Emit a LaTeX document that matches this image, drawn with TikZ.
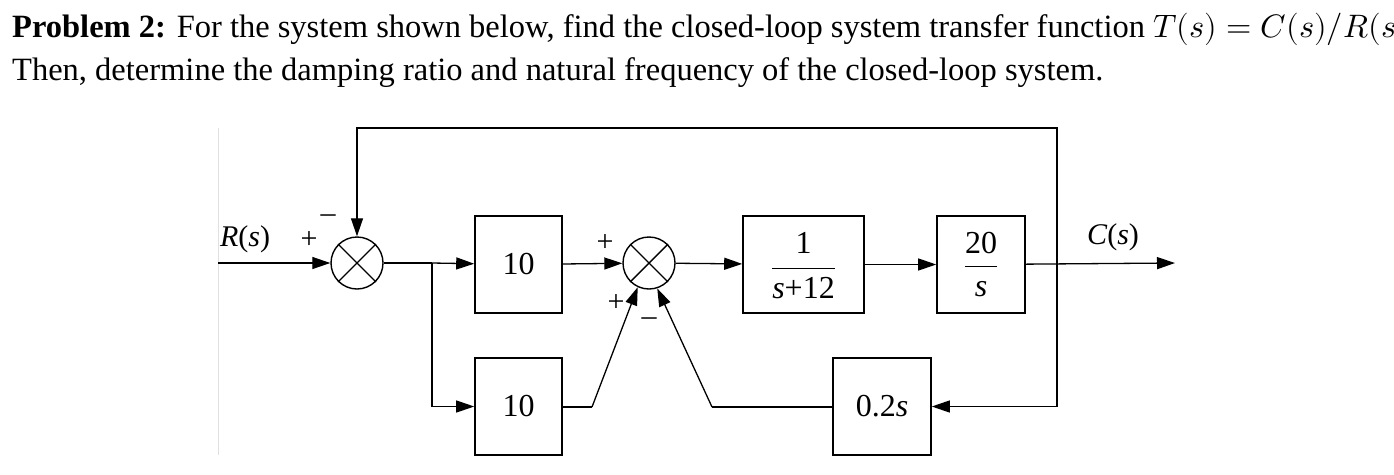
\documentclass[tikz,border=0pt]{standalone}
\usepackage{unicode-math}
\setmainfont{Liberation Serif}
\setmathfont{Latin Modern Math}
\usetikzlibrary{arrows.meta}
\begin{document}
\begin{tikzpicture}[x=1pt,y=-1pt,
  blk/.style={draw,line width=1.6pt,inner sep=0pt,font=\fontsize{32}{34}\selectfont},
  sj/.style={draw,circle,line width=1.4pt,minimum size=52pt,inner sep=0pt},
  sig/.style={line width=1.3pt},
  arr/.style={sig,-{Triangle[length=18pt,width=12pt]}},
  lbl/.style={font=\fontsize{30}{32}\selectfont}]
\useasboundingbox (0,0) rectangle (1394,474);
\node[anchor=base west,inner sep=0pt,font=\fontsize{32.5}{35}\selectfont] (t1) at (12,37) {\textbf{Problem 2:} For the system shown below, find the closed-loop system transfer function $T(s)=C(s)/R(s)$.};
\node[anchor=base west,inner sep=0pt,font=\fontsize{32.5}{35}\selectfont] (t2) at (12,80) {Then, determine the damping ratio and natural frequency of the closed-loop system.};
\draw[black!12,line width=1pt] (218,128) -- (218,455);
\node[sj] (s1) at (357,263) {};
\node[sj] (s2) at (649,263) {};
\foreach \s in {s1,s2}{\draw[line width=1.4pt] (\s.45)--(\s.225) (\s.135)--(\s.-45);}
\node[blk,minimum width=87pt,minimum height=97pt] (g1) at (518.5,264.5) {10};
\node[blk,minimum width=87pt,minimum height=97pt] (g2) at (518.5,406.5) {10};
\node[blk,minimum width=121pt,minimum height=97pt] (g3) at (803.5,264.5) {$\displaystyle\frac{\mbox{1\strut}}{\mbox{\itshape s\upshape+12}}$};
\node[blk,minimum width=88pt,minimum height=97pt] (g4) at (981,264.5) {$\displaystyle\frac{\mbox{20}}{\mbox{\itshape s}}$};
\node[blk,minimum width=98pt,minimum height=97pt] (h) at (882,406.5) {0.2\textit{s}};
\coordinate (in) at (218,263);
\coordinate (b1) at (432,263);
\coordinate (b2) at (1057,263);
\coordinate (out) at (1175,263);
\coordinate (k1) at (592,407);
\coordinate (k2) at (712,407);
\draw[arr] (in) -- (s1);
\draw[sig] (s1) -- (b1);
\draw[arr] (b1) -- (g1);
\draw[arr] (b1) |- (g2);
\draw[arr] (g1) -- (s2);
\draw[arr] (s2) -- (g3);
\draw[arr] (g3) -- (g4);
\draw[arr] (g4) -- (out);
\draw[arr] (b2) |- (h);
\draw[arr] (b2) -- (1057,128) -| (s1);
\draw[sig] (g2.east|-k1) -- (k1);
\draw[arr] (k1) -- (s2.-115);
\draw[sig] (h.west|-k2) -- (k2);
\draw[arr] (k2) -- (s2.-72);
\node[lbl] (R) at (245,239) {\textit{R}(\textit{s})};
\node[lbl] (C) at (1113,237) {\textit{C}(\textit{s})};
\node[lbl] (p1) at (309,240) {+};
\node[lbl] (m1) at (328,219) {--};
\node[lbl] (p2) at (605,243) {+};
\node[lbl] (p3) at (616,303) {+};
\node[lbl] (m2) at (649,322) {--};
\end{tikzpicture}
\end{document}
